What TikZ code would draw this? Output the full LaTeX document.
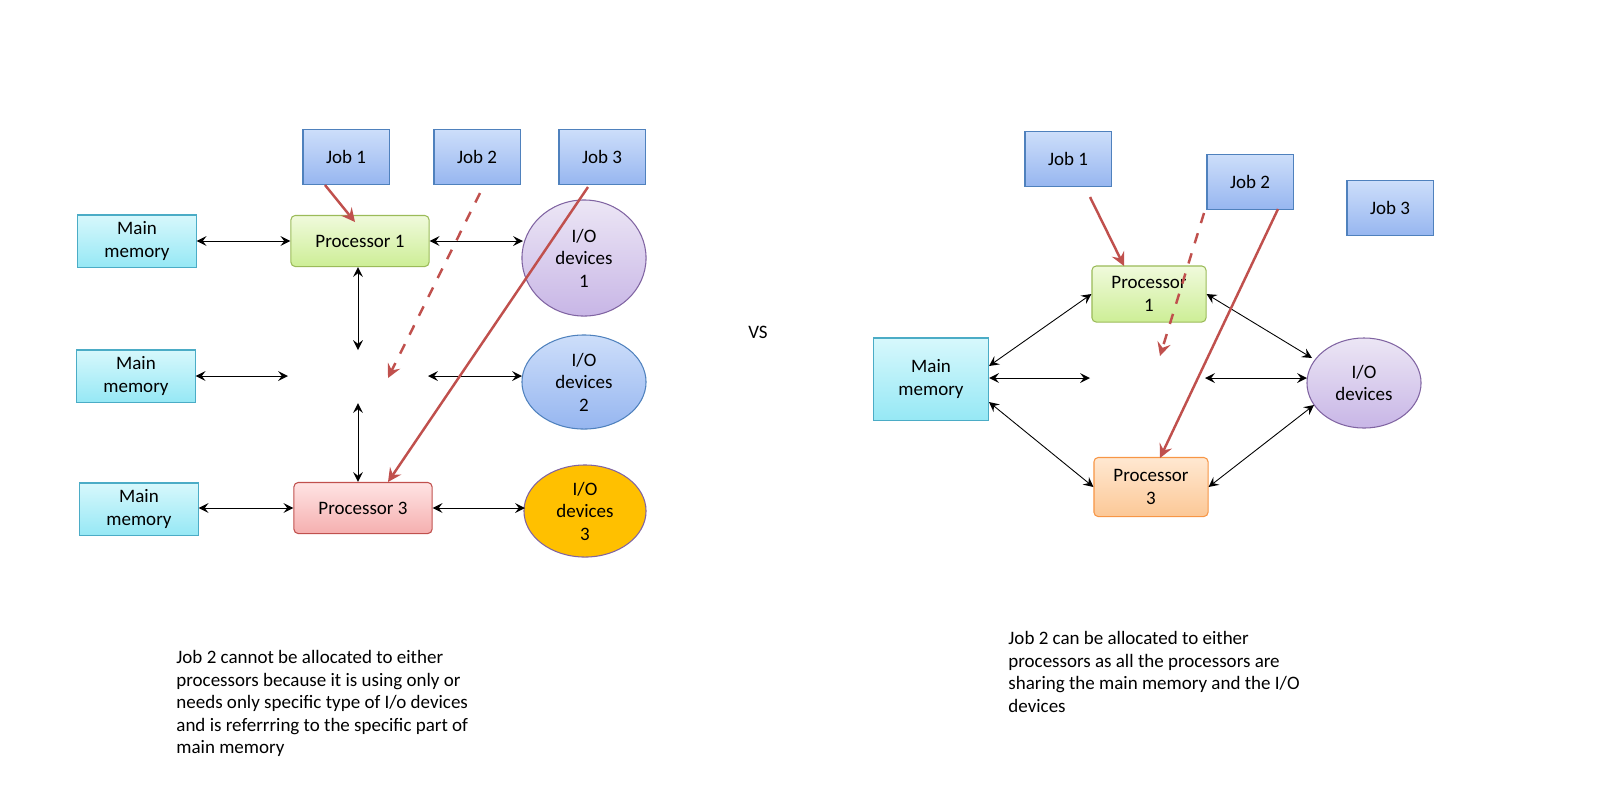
\documentclass[tikz,border=0pt]{standalone}
\usepackage{fontspec}
\setmainfont{Carlito}
\usetikzlibrary{shapes.geometric}
\definecolor{jobtop}{RGB}{205,222,250}
\definecolor{jobbot}{RGB}{150,182,240}
\definecolor{jobline}{RGB}{79,129,189}
\definecolor{mmtop}{RGB}{215,248,252}
\definecolor{mmbot}{RGB}{150,232,245}
\definecolor{mmline}{RGB}{75,172,198}
\definecolor{grtop}{RGB}{240,250,220}
\definecolor{grbot}{RGB}{205,238,150}
\definecolor{grline}{RGB}{155,187,89}
\definecolor{rdtop}{RGB}{255,228,228}
\definecolor{rdbot}{RGB}{245,175,175}
\definecolor{rdline}{RGB}{192,80,77}
\definecolor{ortop}{RGB}{255,232,210}
\definecolor{orbot}{RGB}{252,200,150}
\definecolor{orline}{RGB}{247,150,70}
\definecolor{vitop}{RGB}{236,230,245}
\definecolor{vibot}{RGB}{200,182,230}
\definecolor{viline}{RGB}{128,100,162}
\definecolor{gold}{RGB}{255,192,0}
\definecolor{jobred}{RGB}{192,80,77}
\begin{document}
\begin{tikzpicture}[x=0.01cm,y=-0.01cm,font=\fontsize{5.4}{6.4}\selectfont,
  box/.style={draw=#1,line width=0.3pt,align=center,inner sep=0pt},
  job/.style={box=jobline,top color=jobtop,bottom color=jobbot,minimum width=0.86cm,minimum height=0.55cm},
  mm/.style={box=mmline,top color=mmtop,bottom color=mmbot,minimum width=1.18cm,minimum height=0.52cm},
  proc/.style={box=#1line,top color=#1top,bottom color=#1bot,rounded corners=1.2pt,minimum width=1.38cm,minimum height=0.51cm},
  io/.style={draw=#1,ellipse,line width=0.3pt,align=center,inner sep=0pt},
  link/.style={<->,>=stealth,line width=0.25pt},
  job arrow/.style={->,>=stealth,draw=jobred,line width=0.7pt}]
\useasboundingbox (0,0) rectangle (1600,793);
% left part
\node[job] (j1) at (346,157) {Job 1};
\node[job] (j2) at (477,157) {Job 2};
\node[job] (j3) at (602,157) {Job 3};
\node[mm] (m1) at (137,241) {Main\\memory};
\node[mm] (m2) at (136,376) {Main\\memory};
\node[mm] (m3) at (139,509) {Main\\memory};
\node[proc=gr] (p1) at (360,241) {Processor 1};
\node[proc=rd] (p3) at (363,508) {Processor 3};
\node[io=viline,minimum width=1.24cm,minimum height=1.16cm,top color=vitop,bottom color=vibot] (io1) at (584,258) {I/O\\devices\\1};
\node[io=jobline,minimum width=1.24cm,minimum height=0.94cm,top color=jobtop,bottom color=jobbot] (io2) at (584,382) {I/O\\devices\\2};
\node[io=viline,minimum width=1.22cm,minimum height=0.92cm,fill=gold] (io3) at (585,511) {I/O\\devices\\3};
\coordinate (c2l) at (288,376); \coordinate (c2r) at (428,376);
\coordinate (c2t) at (358,350); \coordinate (c2b) at (358,403);
\coordinate (j2e) at (388,378);
\coordinate (io1w) at (523,241); \coordinate (io2w) at (522,376); \coordinate (io3w) at (525,508);
\draw[link] (m1) -- (p1); \draw[link] (p1) -- (io1w);
\draw[link] (p1.south -| c2t) -- (c2t);
\draw[link] (m2) -- (c2l); \draw[link] (c2r) -- (io2w);
\draw[link] (c2b) -- (p3.north -| c2b);
\draw[link] (m3.east |- p3) -- (p3); \draw[link] (p3) -- (io3w);
\draw[job arrow] (325,185) -- (355,222);
\draw[job arrow,dashed] (480,193) -- (j2e);
\draw[job arrow] (588,187) -- (388,482);
\node[anchor=north west,align=left] (t1) at (164,638) {Job 2 cannot be allocated to either\\processors because it is using only or\\needs only specific type of I/o devices\\and is referrring to the specific part of\\main memory};
\node (vs) at (758,332) {VS};
% right part
\node[job] (rj1) at (1068,159) {Job 1};
\node[job] (rj2) at (1250,182) {Job 2};
\node[job] (rj3) at (1390,208) {Job 3};
\node[mm,minimum width=1.15cm,minimum height=0.82cm] (rm) at (931,379) {Main\\memory};
\node[proc=gr,minimum width=1.14cm,minimum height=0.56cm] (rp1) at (1149,294) {Processor\\1};
\node[proc=or,minimum width=1.14cm,minimum height=0.59cm] (rp3) at (1151,487) {Processor\\3};
\node[io=viline,minimum width=1.14cm,minimum height=0.9cm,top color=vitop,bottom color=vibot] (rio) at (1364,383) {I/O\\devices};
\coordinate (rcl) at (1090,378); \coordinate (rcr) at (1205,378);
\coordinate (riow) at (1307,378);
\draw[link] (989,366) -- (rp1.west);
\draw[link] (rm.east |- rcl) -- (rcl);
\draw[link] (989,402) -- (rp3.west);
\draw[link] (rp1.east) -- (1312,358);
\draw[link] (rcr) -- (riow);
\draw[link] (rp3.east) -- (1314,405);
\draw[job arrow] (1090,197) -- (1124,266);
\draw[job arrow,dashed] (1204,213) -- (1160,356);
\draw[job arrow] (1278,209) -- (1160,458);
\node[anchor=north west,align=left] (t2) at (996,619) {Job 2 can be allocated to either\\processors as all the processors are\\sharing the main memory and the I/O\\devices};
\end{tikzpicture}
\end{document}
